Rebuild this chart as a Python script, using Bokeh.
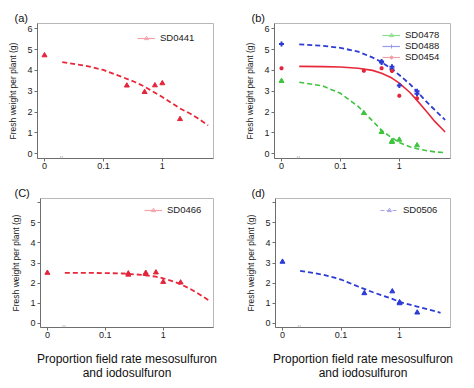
from bokeh.plotting import figure
from bokeh.layouts import column, row
from bokeh.models import Label, Legend, LegendItem, FixedTicker
from bokeh.embed import file_html
from bokeh.resources import INLINE

# ---------------- data ----------------
ZERO_AT = 0.01            # where the 0 dose is drawn on the log axis
X_TICKS = [0.01, 0.1, 1]
X_TICK_LABELS = ["0", "0.1", "1"]
Y_TICKS = [0, 1, 2, 3, 4, 5, 6]

# (a) SD0441
a_dose = [0, 0.25, 0.5, 0.75, 1, 2]
a_fw = [4.72, 3.27, 2.96, 3.28, 3.38, 1.66]
# (b) SD0478 / SD0488 / SD0454
b478_dose = [0, 0.25, 0.5, 0.75, 0.75, 1, 2]
b478_fw = [3.49, 1.95, 1.04, 0.60, 0.56, 0.67, 0.40]
b488_dose = [0, 0.5, 0.5, 0.75, 0.75, 1, 2, 2]
b488_fw = [5.27, 4.43, 4.38, 4.18, 4.05, 3.28, 3.00, 2.88]
b454_dose = [0, 0.25, 0.5, 0.75, 1, 2]
b454_fw = [4.10, 3.98, 4.10, 3.97, 2.78, 2.66]
# (c) SD0466
c_dose = [0, 0.25, 0.25, 0.5, 0.5, 0.75, 1, 2]
c_fw = [2.51, 2.48, 2.42, 2.51, 2.45, 2.53, 2.06, 2.03]
# (d) SD0506
d_dose = [0, 0.25, 0.75, 1, 1, 2]
d_fw = [3.06, 1.50, 1.59, 1.05, 1.00, 0.54]

# fitted curves
curve_dose = [0.02, 0.05, 0.1, 0.2, 0.35, 0.5, 0.75, 1, 1.5, 2, 3, 4, 6]
a_curve = [4.40, 4.22, 4.02, 3.70, 3.43, 3.22, 2.93, 2.72, 2.40, 2.17, 1.92, 1.70, 1.36]
b478_curve = [3.43, 3.25, 2.90, 2.27, 1.58, 1.12, 0.76, 0.54, 0.33, 0.24, 0.14, 0.09, 0.05]
b488_curve = [5.25, 5.18, 5.08, 4.90, 4.62, 4.40, 4.05, 3.78, 3.35, 2.98, 2.45, 2.10, 1.62]
b454_curve = [4.19, 4.18, 4.16, 4.10, 4.00, 3.86, 3.63, 3.39, 2.95, 2.56, 1.98, 1.55, 1.04]
c_curve = [2.51, 2.51, 2.50, 2.48, 2.43, 2.39, 2.32, 2.24, 2.08, 1.95, 1.70, 1.49, 1.17]
d_curve_dose = [0.02, 0.05, 0.1, 0.2, 0.35, 0.5, 0.75, 1, 1.5, 2, 3, 5]
d_curve = [2.61, 2.42, 2.18, 1.82, 1.55, 1.39, 1.22, 1.07, 0.93, 0.83, 0.71, 0.53]

Y_LABEL = "Fresh weight per plant (g)"
X_LABEL = "Proportion field rate mesosulfuron\nand iodosulfuron"

# ---------------- styles ----------------
FONT = "Liberation Sans"
RED = "#e3253c"
RED_LINE = "#e8283a"
BLUE = "#2b3bd4"
GREEN = "#3ec43e"
AXIS = "#6e6e6e"
NAN = float("nan")


def xpos(doses):
    return [ZERO_AT if d == 0 else d for d in doses]


def make_fig(title, width, height, bl, br, bt, bb, yr, xlabel=None, hide6=False):
    p = figure(width=width, height=height, x_axis_type="log",
               x_range=(0.0076, 7.4), y_range=yr,
               output_backend="svg", toolbar_location=None,
               min_border_left=bl, min_border_right=br,
               min_border_top=bt, min_border_bottom=bb)
    p.xgrid.visible = False
    p.ygrid.visible = False
    p.outline_line_color = "#b8b8b8"
    p.background_fill_color = "white"
    p.border_fill_color = "white"
    for ax in (p.xaxis[0], p.yaxis[0]):
        ax.axis_line_color = AXIS
        ax.major_tick_line_color = AXIS
        ax.minor_tick_line_color = None
        ax.major_tick_in = 0
        ax.major_tick_out = 3
        ax.major_label_text_font = FONT
        ax.major_label_text_font_size = "9px"
        ax.major_label_text_color = "#222222"
    p.xaxis.ticker = FixedTicker(ticks=X_TICKS)
    p.xaxis.major_label_overrides = {t: l for t, l in zip(X_TICKS, X_TICK_LABELS)}
    p.xaxis.major_label_standoff = 1
    p.yaxis.ticker = FixedTicker(ticks=Y_TICKS)
    if hide6:
        p.yaxis.major_label_overrides = {6: ""}
    p.yaxis.major_label_standoff = 2
    p.yaxis.axis_label = Y_LABEL
    p.yaxis.axis_label_text_font = FONT
    p.yaxis.axis_label_text_font_size = "8.5px"
    p.yaxis.axis_label_text_font_style = "normal"
    p.yaxis.axis_label_text_color = "#222222"
    p.yaxis.axis_label_standoff = 6
    if xlabel:
        p.xaxis.axis_label = xlabel
        p.xaxis.axis_label_text_font = FONT
        p.xaxis.axis_label_text_font_size = "12px"
        p.xaxis.axis_label_text_font_style = "normal"
        p.xaxis.axis_label_text_color = "#111111"
        p.xaxis.axis_label_text_line_height = 1.0
        p.xaxis.axis_label_standoff = 11
    p.title.text = title
    p.title.align = "left"
    p.title.offset = -(bl - 14)
    p.title.standoff = 0
    p.title.text_font = FONT
    p.title.text_font_size = "11px"
    p.title.text_font_style = "normal"
    p.title.text_color = "#111111"
    # axis break mark
    p.add_layout(Label(x=0.019, y=yr[0], text="//", text_font=FONT,
                       text_font_size="7px", text_color="#999999",
                       text_align="center", text_baseline="middle"))
    return p


def add_legend(p, entries, loc):
    items = []
    for label, color, marker, dash in entries:
        l = p.line([1], [NAN], line_color=color, line_width=1.2, line_dash=dash)
        s = p.scatter([1], [NAN], marker=marker, size=6, line_color=color,
                      fill_color=None, line_width=1)
        items.append(LegendItem(label=label, renderers=[l, s]))
    lg = Legend(items=items, location=loc, border_line_color=None,
                background_fill_alpha=0, label_text_font=FONT,
                label_text_font_size="9.5px", label_text_color="#222222",
                glyph_width=18, glyph_height=10, label_height=10,
                label_standoff=5, padding=3, spacing=0, margin=0)
    p.add_layout(lg)


TOP_Y = (-0.23, 6.25)
BOT_Y = (-0.2, 6.2)

# (a)
pa = make_fig("(a)", 237, 183, 37, 24, 23, 25, TOP_Y)
pa.line(curve_dose, a_curve, line_color=RED_LINE, line_width=1.8, line_dash="5 3")
pa.scatter(xpos(a_dose), a_fw, marker="triangle", size=5, color=RED)
add_legend(pa, [("SD0441", "#f2a2aa", "triangle", "solid")], (100, 115))

# (b)
pb = make_fig("(b)", 229, 183, 37, 16, 23, 25, TOP_Y)
pb.line(curve_dose, b488_curve, line_color=BLUE, line_width=1.8, line_dash="5 3")
pb.line(curve_dose, b454_curve, line_color=RED_LINE, line_width=1.6)
pb.line(curve_dose, b478_curve, line_color=GREEN, line_width=1.6, line_dash="5 3")
pb.scatter(xpos(b488_dose), b488_fw, marker="cross", size=5, line_width=2, color=BLUE)
pb.scatter(xpos(b454_dose), b454_fw, marker="asterisk", size=4, line_width=1.6, color=RED)
pb.scatter(xpos(b478_dose), b478_fw, marker="triangle", size=5, color=GREEN)
add_legend(pb, [("SD0478", "#8edc8e", "triangle", "solid"),
                ("SD0488", "#9a9ae8", "cross", "solid"),
                ("SD0454", "#f0a0a8", "asterisk", "solid")], (108, 96))

# (c)
pc = make_fig("(C)", 237, 199, 40, 24, 15, 52, BOT_Y, xlabel=X_LABEL, hide6=True)
pc.line(curve_dose, c_curve, line_color=RED_LINE, line_width=1.8, line_dash="5 3")
pc.scatter(xpos(c_dose), c_fw, marker="triangle", size=5, color=RED)
add_legend(pc, [("SD0466", "#f2a2aa", "triangle", "solid")], (104, 112))

# (d)
pd = make_fig("(d)", 229, 199, 38, 16, 15, 52, BOT_Y, xlabel=X_LABEL, hide6=True)
pd.line(d_curve_dose, d_curve, line_color=BLUE, line_width=1.8, line_dash="5 3")
pd.scatter(xpos(d_dose), d_fw, marker="triangle", size=5, color=BLUE)
add_legend(pd, [("SD0506", "#a4a4ea", "triangle", "4 2")], (105, 112))

layout = column(row(pa, pb), row(pc, pd))
open("out.html", "w").write(file_html(layout, INLINE))
